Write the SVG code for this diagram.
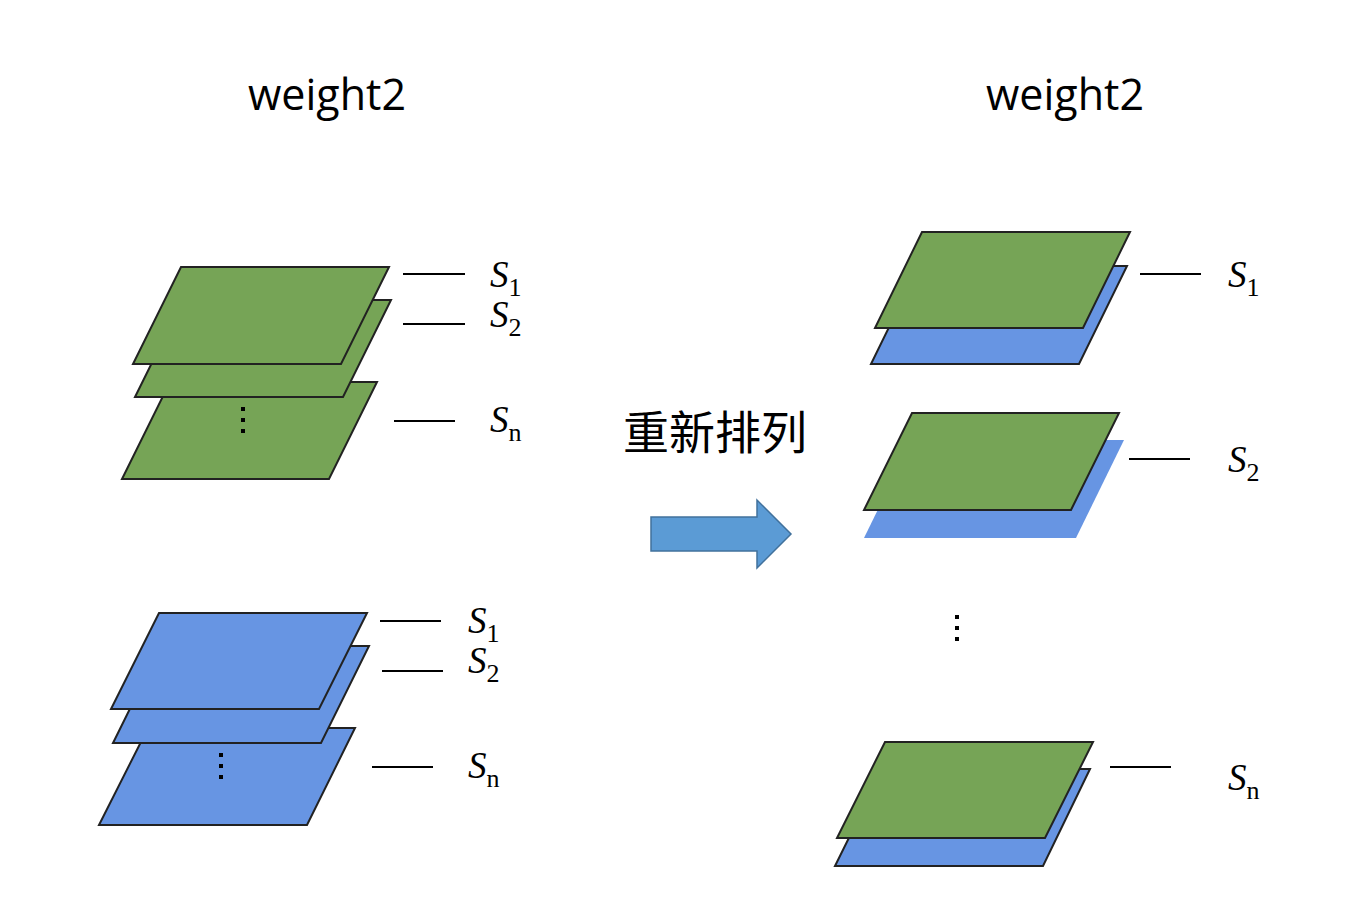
<svg xmlns="http://www.w3.org/2000/svg" width="1346" height="924" viewBox="0 0 1346 924">
<style>
.g{fill:#76A456;stroke:#222;stroke-width:2}
.b{fill:#6795E3;stroke:#222;stroke-width:2}
.bn{fill:#6795E3}
.ln{stroke:#000;stroke-width:2}
.s{font-family:"Liberation Serif",serif;font-style:italic;font-size:37px}
.sub{font-style:normal;font-size:26px}
.t{font-family:"Open Sans","Liberation Sans",sans-serif;font-size:43px;text-anchor:middle}
.d{fill:#000}
</style>
<rect width="1346" height="924" fill="#fff"/>
<text class="t" x="327" y="110">weight2</text>
<text class="t" x="1065" y="110">weight2</text>
<g id="left-green">
<polygon class="g" points="170,382 377,382 329,479 122,479"/>
<polygon class="g" points="183,300 391,300 343,397 135,397"/>
<polygon class="g" points="181,267 389,267 341,364 133,364"/>
<rect class="d" x="241" y="407" width="4" height="4"/><rect class="d" x="241" y="418" width="4" height="4"/><rect class="d" x="241" y="429" width="4" height="4"/>
</g>
<g id="left-blue">
<polygon class="b" points="148,728 355,728 307,825 99,825"/>
<polygon class="b" points="161,646 369,646 321,743 113,743"/>
<polygon class="b" points="159,613 367,613 319,709 111,709"/>
<rect class="d" x="219" y="753" width="4" height="4"/><rect class="d" x="219" y="764" width="4" height="4"/><rect class="d" x="219" y="775" width="4" height="4"/>
</g>
<g id="right-1">
<polygon class="b" points="919,266 1127,266 1079,364 871,364"/>
<polygon class="g" points="922,232 1130,232 1083,328 875,328"/>
</g>
<g id="right-2">
<polygon class="bn" points="912,440 1124,440 1076,538 864,538"/>
<polygon class="g" points="912,413 1119,413 1071,510 864,510"/>
</g>
<g id="right-dots"><rect class="d" x="955" y="615" width="4" height="4"/><rect class="d" x="955" y="626" width="4" height="4"/><rect class="d" x="955" y="637" width="4" height="4"/></g>
<g id="right-n">
<polygon class="b" points="1090,769 1043,866 835,866 883,769"/>
<polygon class="g" points="885,742 1093,742 1045,838 837,838"/>
</g>
<g id="arrow">
<polygon points="651,517 757,517 757,500 791,534 757,568 757,551 651,551" fill="#5B9BD5" stroke="#41719C" stroke-width="1.5"/>
</g>
<text x="715" y="449" font-family="Noto Sans CJK SC,sans-serif" font-size="46" text-anchor="middle">重新排列</text>
<g id="connectors">
<line class="ln" x1="403" y1="274" x2="465" y2="274"/>
<line class="ln" x1="403" y1="324" x2="465" y2="324"/>
<line class="ln" x1="394" y1="421" x2="455" y2="421"/>
<line class="ln" x1="380" y1="621" x2="441" y2="621"/>
<line class="ln" x1="382" y1="671" x2="443" y2="671"/>
<line class="ln" x1="372" y1="767" x2="433" y2="767"/>
<line class="ln" x1="1140" y1="274" x2="1201" y2="274"/>
<line class="ln" x1="1129" y1="459" x2="1190" y2="459"/>
<line class="ln" x1="1110" y1="767" x2="1171" y2="767"/>
</g>
<g id="labels">
<text class="s" x="490" y="287">S<tspan class="sub" dy="9">1</tspan></text>
<text class="s" x="490" y="327">S<tspan class="sub" dy="9">2</tspan></text>
<text class="s" x="490" y="432">S<tspan class="sub" dy="9">n</tspan></text>
<text class="s" x="468" y="633">S<tspan class="sub" dy="9">1</tspan></text>
<text class="s" x="468" y="673">S<tspan class="sub" dy="9">2</tspan></text>
<text class="s" x="468" y="778">S<tspan class="sub" dy="9">n</tspan></text>
<text class="s" x="1228" y="287">S<tspan class="sub" dy="9">1</tspan></text>
<text class="s" x="1228" y="472">S<tspan class="sub" dy="9">2</tspan></text>
<text class="s" x="1228" y="790">S<tspan class="sub" dy="9">n</tspan></text>
</g>
</svg>
